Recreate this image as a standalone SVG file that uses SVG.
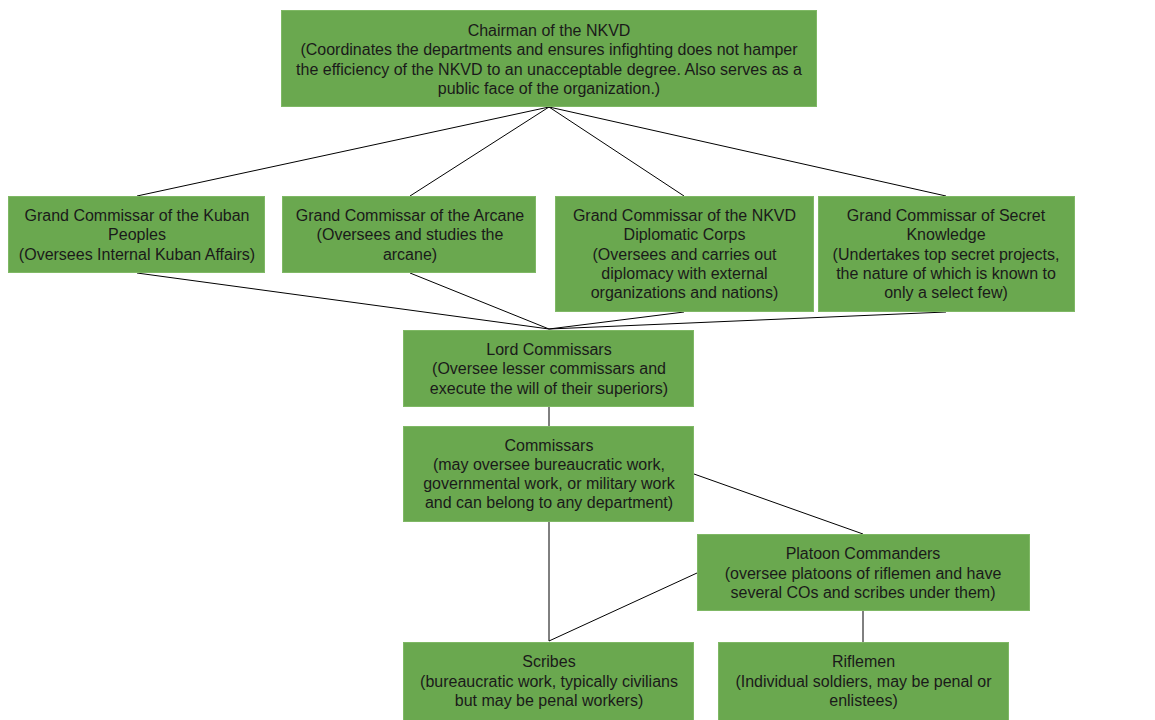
<svg xmlns="http://www.w3.org/2000/svg" width="1155" height="720" viewBox="0 0 1155 720">
<style>
.box{fill:#6aa84f;stroke:#7fb865;stroke-width:1}
.t{font-family:"Liberation Sans",Arial,sans-serif;font-size:16px;fill:#1a1a1a;text-anchor:middle;dominant-baseline:central}
.c{stroke:#000;stroke-width:1;fill:none}
</style>
<rect width="1155" height="720" fill="#fff"/>
<g id="connectors">
<path class="c" d="M549 107L137 196M549 107L410 196M549 107L684 196M549 107L946 196"/>
<path class="c" d="M137 273L549 329M410 273L549 329M684 312L549 329M946 312L549 329"/>
<path class="c" d="M549 407L549 426M694 474L863 534M549 522L549 641M697 573L549 641M863 611L863 642"/>
</g>
<g id="chairman">
<rect class="box" x="281.5" y="10.5" width="535" height="96"/>
<text class="t" x="549"><tspan x="549" y="30">Chairman of the NKVD</tspan><tspan x="549" y="49">(Coordinates the departments and ensures infighting does not hamper</tspan><tspan x="549" y="68.5">the efficiency of the NKVD to an unacceptable degree. Also serves as a</tspan><tspan x="549" y="88">public face of the organization.)</tspan></text>
</g>
<g id="kuban">
<rect class="box" x="8.5" y="196.5" width="256" height="76"/>
<text class="t"><tspan x="137" y="215">Grand Commissar of the Kuban</tspan><tspan x="137" y="234">Peoples</tspan><tspan x="137" y="253.5">(Oversees Internal Kuban Affairs)</tspan></text>
</g>
<g id="arcane">
<rect class="box" x="282.5" y="196.5" width="253" height="76"/>
<text class="t"><tspan x="410" y="215">Grand Commissar of the Arcane</tspan><tspan x="410" y="234">(Oversees and studies the</tspan><tspan x="410" y="253.5">arcane)</tspan></text>
</g>
<g id="diplomatic">
<rect class="box" x="555.5" y="196.5" width="258" height="115"/>
<text class="t"><tspan x="684.5" y="215">Grand Commissar of the NKVD</tspan><tspan x="684.5" y="234">Diplomatic Corps</tspan><tspan x="684.5" y="253.5">(Oversees and carries out</tspan><tspan x="684.5" y="273">diplomacy with external</tspan><tspan x="684.5" y="292">organizations and nations)</tspan></text>
</g>
<g id="secret">
<rect class="box" x="818.5" y="196.5" width="256" height="115"/>
<text class="t"><tspan x="946" y="215">Grand Commissar of Secret</tspan><tspan x="946" y="234">Knowledge</tspan><tspan x="946" y="253.5">(Undertakes top secret projects,</tspan><tspan x="946" y="273">the nature of which is known to</tspan><tspan x="946" y="292">only a select few)</tspan></text>
</g>
<g id="lord">
<rect class="box" x="403.5" y="330.5" width="290" height="76"/>
<text class="t"><tspan x="549" y="349">Lord Commissars</tspan><tspan x="549" y="368">(Oversee lesser commissars and</tspan><tspan x="549" y="387.5">execute the will of their superiors)</tspan></text>
</g>
<g id="commissars">
<rect class="box" x="403.5" y="426.5" width="290" height="95"/>
<text class="t"><tspan x="549" y="444.5">Commissars</tspan><tspan x="549" y="464">(may oversee bureaucratic work,</tspan><tspan x="549" y="483">governmental work, or military work</tspan><tspan x="549" y="502">and can belong to any department)</tspan></text>
</g>
<g id="platoon">
<rect class="box" x="697.5" y="534.5" width="332" height="76"/>
<text class="t"><tspan x="863" y="553">Platoon Commanders</tspan><tspan x="863" y="572.5">(oversee platoons of riflemen and have</tspan><tspan x="863" y="592">several COs and scribes under them)</tspan></text>
</g>
<g id="scribes">
<rect class="box" x="403.5" y="642.5" width="290" height="80"/>
<text class="t"><tspan x="549" y="661">Scribes</tspan><tspan x="549" y="680.5">(bureaucratic work, typically civilians</tspan><tspan x="549" y="700">but may be penal workers)</tspan></text>
</g>
<g id="riflemen">
<rect class="box" x="718.5" y="642.5" width="290" height="80"/>
<text class="t"><tspan x="863.5" y="661">Riflemen</tspan><tspan x="863.5" y="680.5">(Individual soldiers, may be penal or</tspan><tspan x="863.5" y="700">enlistees)</tspan></text>
</g>
</svg>
